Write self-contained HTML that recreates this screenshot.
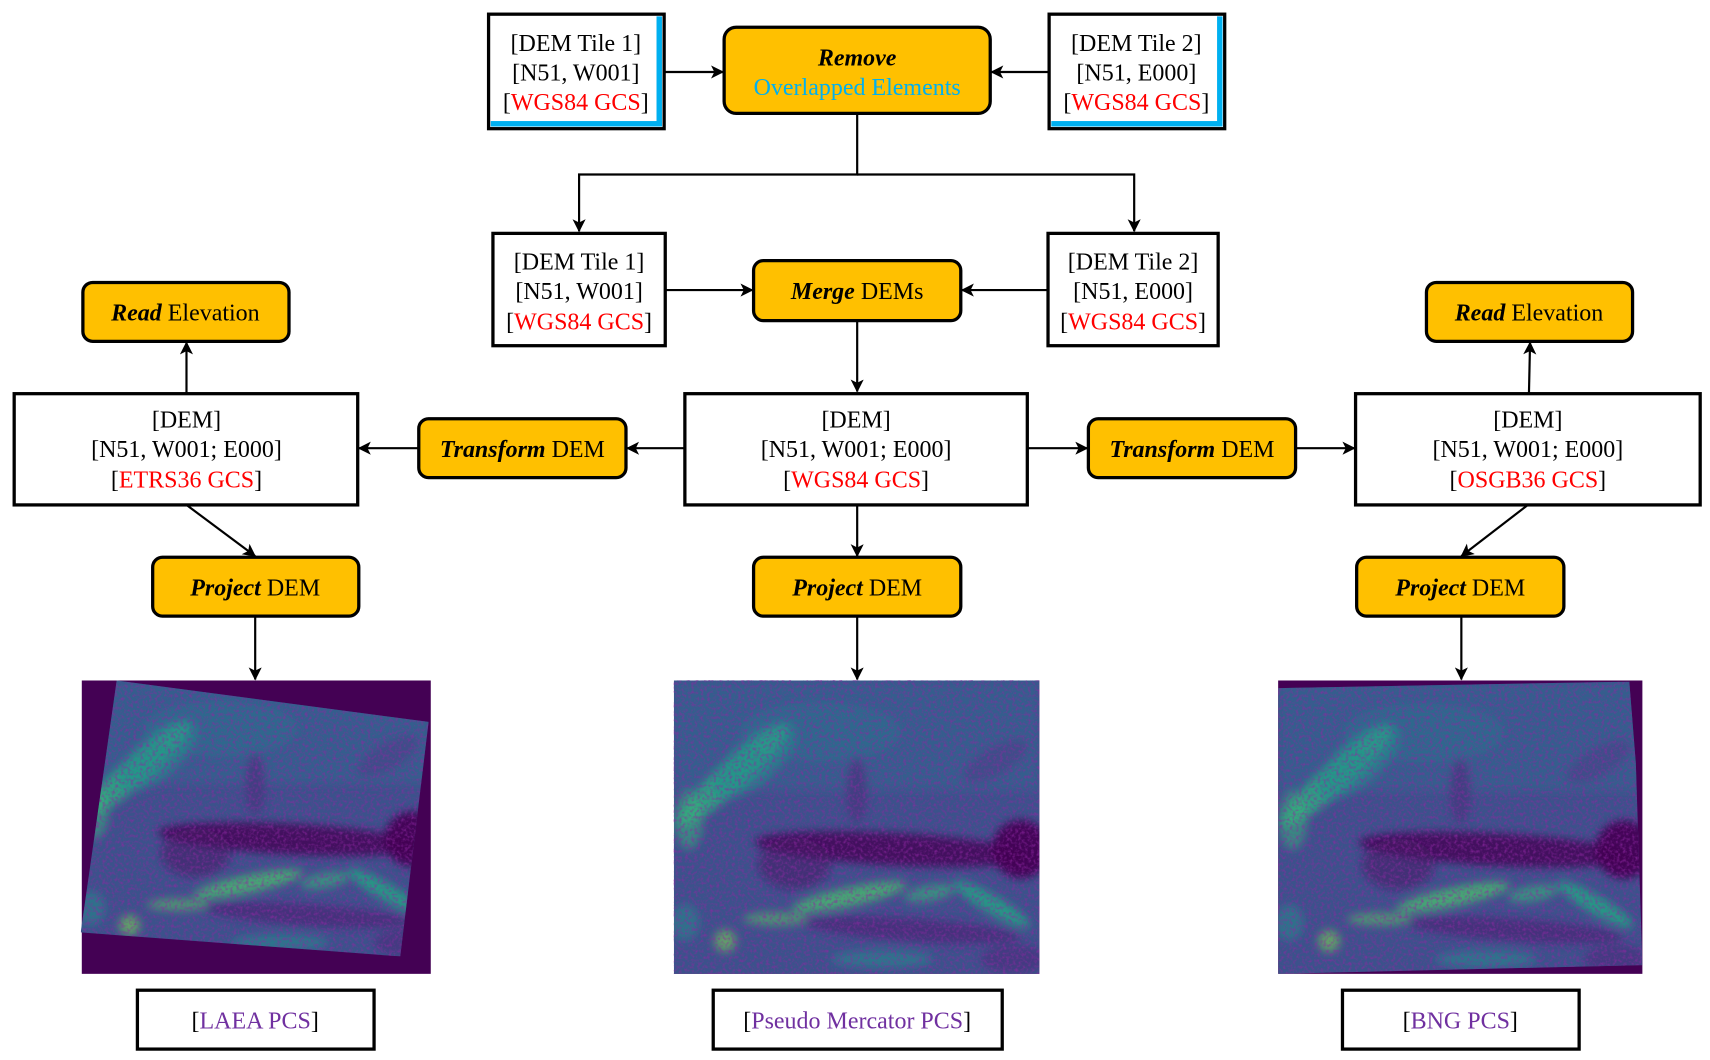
<!DOCTYPE html>
<html><head><meta charset="utf-8">
<style>
html,body{margin:0;padding:0;background:#fff;}
svg{display:block;}
text{font-family:"Liberation Serif",serif;font-size:22px;}
.r{fill:#ff0000;}
.b{font-weight:bold;font-style:italic;}
.p{fill:#7030a0;}
</style></head><body>
<svg width="1710" height="1060" viewBox="0 0 1568 972" preserveAspectRatio="none" xmlns="http://www.w3.org/2000/svg">
<defs>
<marker id="ah" viewBox="0 0 12 12" refX="11" refY="6" markerWidth="12" markerHeight="12" markerUnits="userSpaceOnUse" orient="auto">
<path d="M0,0 L12,6 L0,12 L3,6 z" fill="#000"/>
</marker>
<filter id="bl" x="-10%" y="-10%" width="120%" height="120%"><feGaussianBlur stdDeviation="1.2"/></filter>
<filter id="nz" x="0" y="0" width="100%" height="100%">
<feTurbulence type="fractalNoise" baseFrequency="0.35" numOctaves="2" seed="3"/>
<feColorMatrix type="matrix" values="0 0 0 0 0.27  0 0 0 0 0.02  0 0 0 0 0.36  0 0 0 1.6 -0.7"/>
</filter>
<symbol id="terr" viewBox="0 0 100 80" preserveAspectRatio="none">
<rect x="0" y="0" width="100" height="80" fill="#3b528b"/>
<g filter="url(#bl)">
<rect x="0" y="0" width="100" height="30" fill="#31688e" opacity="0.55"/>
<ellipse cx="40" cy="14" rx="22" ry="8" fill="#2c728e" opacity="0.6"/>
<ellipse cx="16" cy="26" rx="20" ry="4" transform="rotate(-42 16 26)" fill="#29af7f" opacity="0.8"/>
<ellipse cx="22" cy="22" rx="14" ry="6" transform="rotate(-42 22 22)" fill="#21918c" opacity="0.6"/>
<ellipse cx="4" cy="38" rx="4" ry="8" fill="#35b779" opacity="0.5"/>
<ellipse cx="60" cy="46" rx="38" ry="4.5" transform="rotate(3 60 46)" fill="#440154" opacity="0.8"/>
<ellipse cx="33" cy="50" rx="10" ry="7" fill="#471365" opacity="0.55"/>
<ellipse cx="50" cy="30" rx="3" ry="9" fill="#46327e" opacity="0.7"/>
<ellipse cx="95" cy="46" rx="8" ry="8" fill="#440154" opacity="0.95"/>
<ellipse cx="88" cy="22" rx="10" ry="4" transform="rotate(-30 88 22)" fill="#414487" opacity="0.7"/>
<ellipse cx="48" cy="59" rx="16" ry="2.6" transform="rotate(-12 48 59)" fill="#4ac16d" opacity="0.75"/>
<ellipse cx="70" cy="58" rx="7" ry="2.2" transform="rotate(-10 70 58)" fill="#35b779" opacity="0.6"/>
<ellipse cx="28" cy="65" rx="9" ry="1.8" fill="#5ec962" opacity="0.55"/>
<ellipse cx="87" cy="61" rx="12" ry="2.6" transform="rotate(30 87 61)" fill="#22a884" opacity="0.8"/>
<ellipse cx="65" cy="68" rx="30" ry="3.2" transform="rotate(4 65 68)" fill="#482475" opacity="0.7"/>
<ellipse cx="14" cy="71" rx="3" ry="3" fill="#7ad151" opacity="0.6"/>
<ellipse cx="3" cy="66" rx="4" ry="5" fill="#21918c" opacity="0.5"/>
<ellipse cx="57" cy="76" rx="14" ry="2.5" fill="#21918c" opacity="0.55"/>
<ellipse cx="93" cy="76" rx="9" ry="4" fill="#46327e" opacity="0.75"/>
</g>
</symbol>
<clipPath id="cl"><polygon points="107,624 393,662 367,877 74,855"/></clipPath>
<clipPath id="cr"><polygon points="1172,631 1494,625 1500,700 1506,885 1172,893"/></clipPath>
</defs>

<g stroke="#000" stroke-width="2" fill="none">
<line x1="610" y1="66" x2="663" y2="66" marker-end="url(#ah)"/>
<line x1="961" y1="66" x2="909" y2="66" marker-end="url(#ah)"/>
<polyline points="786,104 786,160 531,160 531,212" marker-end="url(#ah)"/>
<polyline points="786,160 1040,160 1040,212" marker-end="url(#ah)"/>
<line x1="610" y1="266" x2="690" y2="266" marker-end="url(#ah)"/>
<line x1="961" y1="266" x2="882" y2="266" marker-end="url(#ah)"/>
<line x1="786" y1="294" x2="786" y2="359" marker-end="url(#ah)"/>
<line x1="628" y1="411" x2="575" y2="411" marker-end="url(#ah)"/>
<line x1="384" y1="411" x2="329" y2="411" marker-end="url(#ah)"/>
<line x1="942" y1="411" x2="997" y2="411" marker-end="url(#ah)"/>
<line x1="1188" y1="411" x2="1242" y2="411" marker-end="url(#ah)"/>
<line x1="171" y1="360" x2="171" y2="314" marker-end="url(#ah)"/>
<line x1="1402" y1="360" x2="1403" y2="314" marker-end="url(#ah)"/>
<line x1="171" y1="463" x2="234" y2="510" marker-end="url(#ah)"/>
<line x1="786" y1="463" x2="786" y2="510" marker-end="url(#ah)"/>
<line x1="1401" y1="463" x2="1340" y2="510" marker-end="url(#ah)"/>
<line x1="234" y1="565" x2="234" y2="623" marker-end="url(#ah)"/>
<line x1="786" y1="565" x2="786" y2="623" marker-end="url(#ah)"/>
<line x1="1340" y1="565" x2="1340" y2="623" marker-end="url(#ah)"/>
</g>

<rect x="448" y="13" width="161" height="105" fill="#fff" stroke="#000" stroke-width="3"/>
<rect x="602" y="15" width="5" height="101" fill="#00b0f0"/>
<rect x="450" y="111" width="157" height="5" fill="#00b0f0"/>
<rect x="962" y="13" width="161" height="105" fill="#fff" stroke="#000" stroke-width="3"/>
<rect x="1116" y="15" width="5" height="101" fill="#00b0f0"/>
<rect x="964" y="111" width="157" height="5" fill="#00b0f0"/>

<g fill="#fff" stroke="#000" stroke-width="3">
<rect x="452" y="214" width="158" height="103"/>
<rect x="961" y="214" width="156" height="103"/>
<rect x="628" y="361" width="314" height="102"/>
<rect x="13" y="361" width="315" height="102"/>
<rect x="1243" y="361" width="316" height="102"/>
<rect x="126" y="908" width="217" height="54"/>
<rect x="654" y="908" width="265" height="54"/>
<rect x="1231" y="908" width="217" height="54"/>
</g>
<g fill="#ffc000" stroke="#000" stroke-width="3">
<rect x="664" y="25" width="244" height="79" rx="11"/>
<rect x="691" y="239" width="190" height="55" rx="9"/>
<rect x="384" y="384" width="190" height="54" rx="9"/>
<rect x="998" y="384" width="190" height="54" rx="9"/>
<rect x="76" y="259" width="189" height="54" rx="9"/>
<rect x="1308" y="259" width="189" height="54" rx="9"/>
<rect x="140" y="511" width="189" height="54" rx="9"/>
<rect x="691" y="511" width="190" height="54" rx="9"/>
<rect x="1244" y="511" width="190" height="54" rx="9"/>
</g>

<!-- images -->
<rect x="75" y="624" width="320" height="269" fill="#440154"/>
<g clip-path="url(#cl)">
<use href="#terr" x="74" y="624" width="320" height="253"/>
<rect x="74" y="624" width="320" height="253" filter="url(#nz)"/>
</g>
<rect x="618" y="624" width="335" height="269" fill="#440154"/>
<use href="#terr" x="618" y="624" width="335" height="269"/>
<rect x="618" y="624" width="335" height="269" filter="url(#nz)"/>
<rect x="1172" y="624" width="334" height="269" fill="#440154"/>
<g clip-path="url(#cr)">
<use href="#terr" x="1172" y="625" width="334" height="268"/>
<rect x="1172" y="625" width="334" height="268" filter="url(#nz)"/>
</g>

<g text-anchor="middle">
<text x="528" y="47">[DEM Tile 1]</text>
<text x="528" y="74">[N51, W001]</text>
<text x="528" y="101">[<tspan class="r">WGS84 GCS</tspan>]</text>
<text x="1042" y="47">[DEM Tile 2]</text>
<text x="1042" y="74">[N51, E000]</text>
<text x="1042" y="101">[<tspan class="r">WGS84 GCS</tspan>]</text>
<text x="786" y="60" class="b">Remove</text>
<text x="786" y="87" fill="#00b0f0">Overlapped Elements</text>

<text x="531" y="247">[DEM Tile 1]</text>
<text x="531" y="274">[N51, W001]</text>
<text x="531" y="302">[<tspan class="r">WGS84 GCS</tspan>]</text>
<text x="1039" y="247">[DEM Tile 2]</text>
<text x="1039" y="274">[N51, E000]</text>
<text x="1039" y="302">[<tspan class="r">WGS84 GCS</tspan>]</text>
<text x="786" y="274"><tspan class="b">Merge</tspan> DEMs</text>

<text x="785" y="392">[DEM]</text>
<text x="785" y="419">[N51, W001; E000]</text>
<text x="785" y="447">[<tspan class="r">WGS84 GCS</tspan>]</text>
<text x="171" y="392">[DEM]</text>
<text x="171" y="419">[N51, W001; E000]</text>
<text x="171" y="447">[<tspan class="r">ETRS36 GCS</tspan>]</text>
<text x="1401" y="392">[DEM]</text>
<text x="1401" y="419">[N51, W001; E000]</text>
<text x="1401" y="447">[<tspan class="r">OSGB36 GCS</tspan>]</text>

<text x="479" y="419"><tspan class="b">Transform</tspan> DEM</text>
<text x="1093" y="419"><tspan class="b">Transform</tspan> DEM</text>
<text x="170" y="294"><tspan class="b">Read</tspan> Elevation</text>
<text x="1402" y="294"><tspan class="b">Read</tspan> Elevation</text>
<text x="234" y="546"><tspan class="b">Project</tspan> DEM</text>
<text x="786" y="546"><tspan class="b">Project</tspan> DEM</text>
<text x="1339" y="546"><tspan class="b">Project</tspan> DEM</text>

<text x="234" y="943">[<tspan class="p">LAEA PCS</tspan>]</text>
<text x="786" y="943">[<tspan class="p">Pseudo Mercator PCS</tspan>]</text>
<text x="1339" y="943">[<tspan class="p">BNG PCS</tspan>]</text>
</g>
</svg>
</body></html>
